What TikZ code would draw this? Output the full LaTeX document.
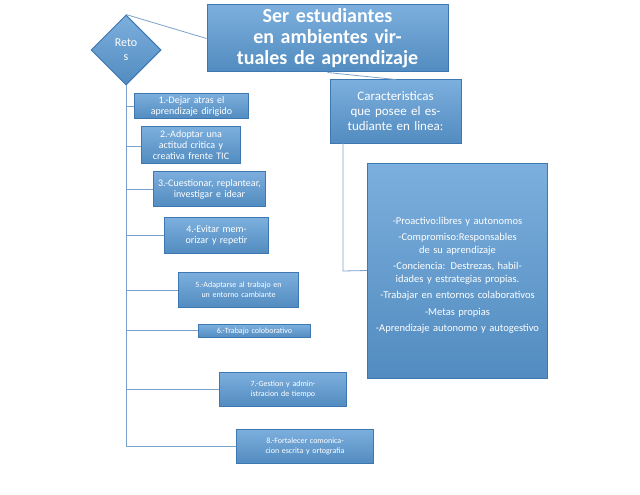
\documentclass[tikz,border=0pt]{standalone}
\usepackage{fontspec}
\setmainfont{Carlito}
\usetikzlibrary{shapes.geometric}
\definecolor{bfill}{HTML}{5B9BD5}
\definecolor{bdark}{HTML}{3E78B2}
\definecolor{bline}{HTML}{7AA3CC}
\tikzset{
 bx/.style={draw=bdark,line width=1pt,top color=bfill!80!white,bottom color=bfill!90!black,text=white,align=center,inner sep=1pt,anchor=north west},
 ln/.style={draw=bline,line width=0.8pt},
}
\newcommand{\bxat}[6]{\node[bx,minimum width=#4pt-#2pt,minimum height=#5pt-#3pt,text width=#4pt-#2pt-4pt] (#1) at (#2,#3) {#6};}
\begin{document}
\begin{tikzpicture}[x=1pt,y=-1pt]
\useasboundingbox (0,0) rectangle (640,495);
\fill[white] (0,0) rectangle (640,495);
\node[bx,anchor=center,font=\fontsize{20}{21}\selectfont\bfseries,minimum width=241pt,minimum height=67pt,text width=238pt] (t) at (327.5,38.5) {Ser estudiantes en ambientes virtuales de aprendizaje};
\node[bx,anchor=center,diamond,minimum width=70pt,minimum height=70pt,inner sep=0pt,font=\fontsize{12}{14}\selectfont,text width=30pt] (r) at (126,50) {Reto\\s};
\draw[ln] (r.north) -- (t.west);
\node[bx,anchor=center,minimum width=131pt,minimum height=63pt,text width=128pt,font=\fontsize{13}{15}\selectfont] (c) at (395.5,111.5) {Caracteristicas que posee el estudiante en linea:};
\draw[ln] (t.south) -- (c.north);
\node[bx,anchor=center,minimum width=177pt,minimum height=215pt,text width=178pt,font=\fontsize{10.5}{12.5}\selectfont] (g) at (457.5,270.5) {\\[4pt]-Proactivo:libres y autonomos\\[4pt]-Compromiso:Responsables de su aprendizaje\\[4pt]-Conciencia: Destrezas, habilidades y estrategias propias.\\[4pt]-Trabajar en entornos colaborativos\\[4pt]-Metas propias\\[4pt]-Aprendizaje autonomo y autogestivo};
\coordinate (cb) at (343,143);
\coordinate (cc) at (343,271);
\draw[ln] (cb) -- (cc) -- (g.west);
\begin{scope}[font=\fontsize{10}{11}\selectfont]
\bxat{a1}{134}{93}{248}{118}{1.-Dejar atras el aprendizaje dirigido}
\bxat{a2}{141}{126}{240}{163}{2.-Adoptar una actitud critica y creativa frente TIC}
\bxat{a3}{153}{171}{265}{206}{3.-Cuestionar, replantear, investigar e idear}
\bxat{a4}{164}{217}{268}{253}{4.-Evitar memorizar y repetir}
\end{scope}
\begin{scope}[font=\fontsize{8}{10}\selectfont]
\bxat{a5}{178}{272}{298}{307}{5.-Adaptarse al trabajo en un entorno cambiante}
\bxat{a6}{198}{324}{310}{337}{6.-Trabajo coloborativo}
\bxat{a7}{219}{372}{346}{406}{7.-Gestion y administracion de tiempo}
\bxat{a8}{236}{429}{373}{463}{8.-Fortalecer comonicacion escrita y ortografia}
\end{scope}
\coordinate (bot) at (126,446);
\draw[ln] (r.south) -- (bot);
\foreach \i/\y in {1/106,2/146,3/189,4/235,5/290,6/330,7/389,8/446}{
 \draw[ln] (126,\y) -- (a\i.west|-0,\y);
}
\end{tikzpicture}
\end{document}
